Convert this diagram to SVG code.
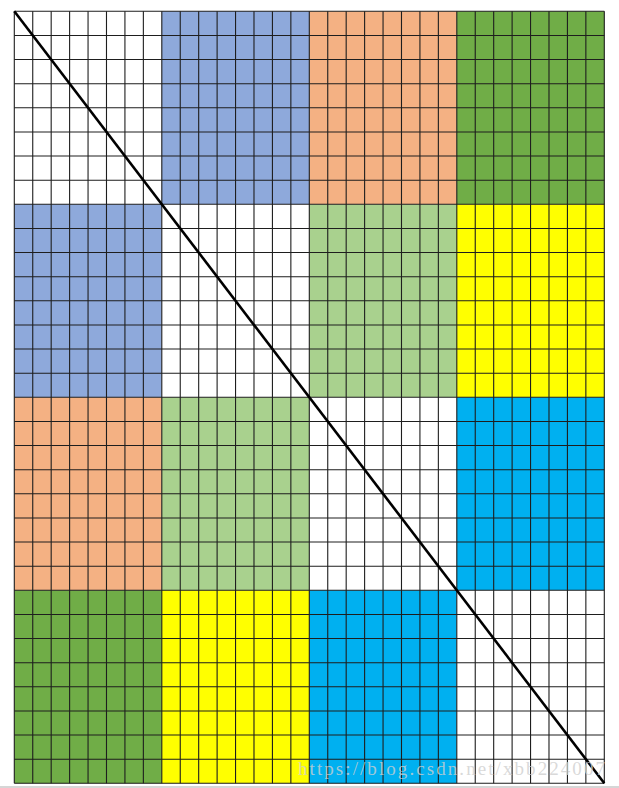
<svg xmlns="http://www.w3.org/2000/svg" width="619" height="788" viewBox="0 0 619 788">
<style>
.w{fill:#ffffff}.b{fill:#8EA9DB}.o{fill:#F4B183}.g{fill:#70AD47}.lg{fill:#A9D18E}.y{fill:#FFFF00}.c{fill:#00B0F0}
.grid{fill:none;stroke:#1e1e1e;stroke-width:1.1}
.diag{stroke:#000;stroke-width:2.6;fill:none}
.wm{font-family:"Liberation Serif",serif;font-size:19px;fill:#cfcfcf;fill-opacity:0.8}
</style>
<rect x="0" y="0" width="619" height="788" fill="#ffffff"/>
<g id="blocks">
<rect class="w" x="14.3" y="11.3" width="147.5" height="193"/>
<rect class="b" x="161.8" y="11.3" width="147.5" height="193"/>
<rect class="o" x="309.3" y="11.3" width="147.5" height="193"/>
<rect class="g" x="456.8" y="11.3" width="147.5" height="193"/>
<rect class="b" x="14.3" y="204.3" width="147.5" height="193"/>
<rect class="w" x="161.8" y="204.3" width="147.5" height="193"/>
<rect class="lg" x="309.3" y="204.3" width="147.5" height="193"/>
<rect class="y" x="456.8" y="204.3" width="147.5" height="193"/>
<rect class="o" x="14.3" y="397.3" width="147.5" height="193"/>
<rect class="lg" x="161.8" y="397.3" width="147.5" height="193"/>
<rect class="w" x="309.3" y="397.3" width="147.5" height="193"/>
<rect class="c" x="456.8" y="397.3" width="147.5" height="193"/>
<rect class="g" x="14.3" y="590.3" width="147.5" height="193"/>
<rect class="y" x="161.8" y="590.3" width="147.5" height="193"/>
<rect class="c" x="309.3" y="590.3" width="147.5" height="193"/>
<rect class="w" x="456.8" y="590.3" width="147.5" height="193"/>
</g>
<g id="grid">
<path class="grid" d="M14.3 11.3V783.3M32.74 11.3V783.3M51.18 11.3V783.3M69.61 11.3V783.3M88.05 11.3V783.3M106.49 11.3V783.3M124.93 11.3V783.3M143.36 11.3V783.3M161.8 11.3V783.3M180.24 11.3V783.3M198.68 11.3V783.3M217.11 11.3V783.3M235.55 11.3V783.3M253.99 11.3V783.3M272.43 11.3V783.3M290.86 11.3V783.3M309.3 11.3V783.3M327.74 11.3V783.3M346.18 11.3V783.3M364.61 11.3V783.3M383.05 11.3V783.3M401.49 11.3V783.3M419.93 11.3V783.3M438.36 11.3V783.3M456.8 11.3V783.3M475.24 11.3V783.3M493.68 11.3V783.3M512.11 11.3V783.3M530.55 11.3V783.3M548.99 11.3V783.3M567.43 11.3V783.3M585.86 11.3V783.3M604.3 11.3V783.3"/>
<path class="grid" d="M14.3 11.3H604.3M14.3 35.43H604.3M14.3 59.55H604.3M14.3 83.68H604.3M14.3 107.8H604.3M14.3 131.93H604.3M14.3 156.05H604.3M14.3 180.18H604.3M14.3 204.3H604.3M14.3 228.43H604.3M14.3 252.55H604.3M14.3 276.68H604.3M14.3 300.8H604.3M14.3 324.93H604.3M14.3 349.05H604.3M14.3 373.18H604.3M14.3 397.3H604.3M14.3 421.43H604.3M14.3 445.55H604.3M14.3 469.68H604.3M14.3 493.8H604.3M14.3 517.93H604.3M14.3 542.05H604.3M14.3 566.18H604.3M14.3 590.3H604.3M14.3 614.43H604.3M14.3 638.55H604.3M14.3 662.68H604.3M14.3 686.8H604.3M14.3 710.93H604.3M14.3 735.05H604.3M14.3 759.18H604.3M14.3 783.3H604.3"/>
</g>
<g id="connectors">
<line class="diag" x1="14.3" y1="11.3" x2="604.3" y2="783.3"/>
</g>
<line x1="0" y1="787" x2="619" y2="787" stroke="#c8c8c8" stroke-width="1.5"/>
<text class="wm" x="298" y="775" textLength="307" lengthAdjust="spacing">https://blog.csdn.net/xbb224007</text>
</svg>
